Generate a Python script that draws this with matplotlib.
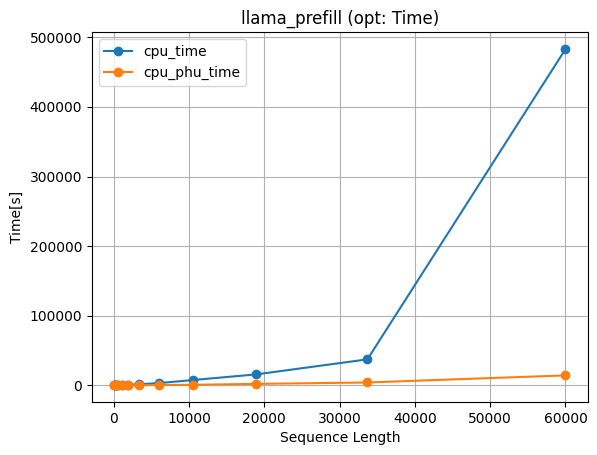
import matplotlib
matplotlib.use("Agg")
import matplotlib.pyplot as plt

# sequence lengths and measured times
seq_len = [100, 190, 340, 600, 1060, 1900, 3370, 6000, 10600, 18900, 33700, 60000]
cpu_time = [10, 30, 80, 200, 450, 1000, 1600, 3300, 7800, 15800, 37400, 483000]
cpu_phu_time = [5, 10, 20, 40, 80, 150, 280, 500, 900, 2200, 4200, 14400]

fig = plt.figure(figsize=(5.97, 4.55), dpi=100)
ax = fig.add_axes([0.1538, 0.116, 0.8312, 0.813])

ax.plot(seq_len, cpu_time, marker='o', label='cpu_time')
ax.plot(seq_len, cpu_phu_time, marker='o', label='cpu_phu_time')
ax.set_xlabel('Sequence Length')
ax.set_ylabel('Time[s]')
ax.set_title('llama_prefill (opt: Time)')
ax.grid(True)
ax.legend(loc='upper left')

fig.savefig('out.png', dpi=100)
